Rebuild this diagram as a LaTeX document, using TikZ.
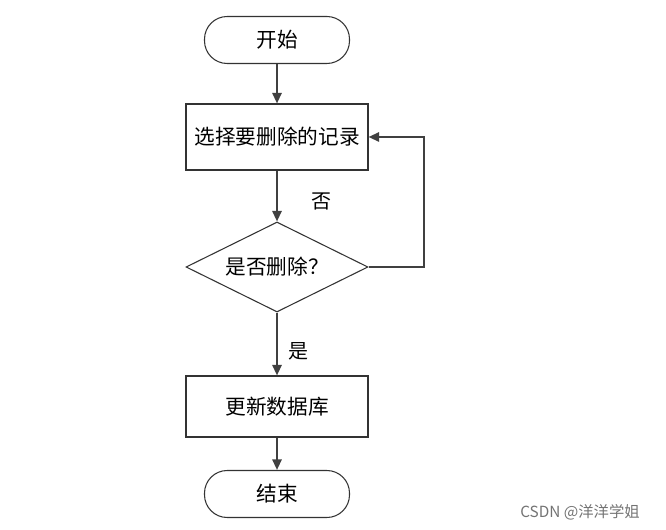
\documentclass[tikz,border=0pt]{standalone}
\usepackage{fontspec}
\setmainfont{Noto Sans CJK SC}
\usetikzlibrary{shapes.geometric,arrows.meta}
\begin{document}
\begin{tikzpicture}[x=0.75pt,y=-0.75pt,
  box/.style={draw=black!80,line width=0.8pt,minimum width=136.5pt,inner sep=0pt,font=\fontsize{15.5}{18}\selectfont},
  term/.style={box,rounded corners=17pt,minimum width=108.75pt,minimum height=35.25pt},
  proc/.style={box,minimum height=49pt},
  dec/.style={draw=black!80,line width=0.8pt,diamond,aspect=2,minimum width=136.5pt,minimum height=67.5pt,inner sep=0pt,font=\fontsize{15.5}{18}\selectfont},
  arr/.style={draw=black!75,line width=1.5pt,-{Triangle[length=8pt,width=7pt]}},
  lbl/.style={font=\fontsize{15}{18}\selectfont}]
\useasboundingbox (0,0) rectangle (666,530);
\node[term] (s) at (277,40) {开始};
\node[proc,minimum height=49.5pt] (b1) at (277,137) {选择要删除的记录};
\node[dec] (d) at (277,267) {是否删除？};
\node[proc,minimum height=45.75pt] (b2) at (277,406.5) {更新数据库};
\node[term] (e) at (277,494) {结束};
\coordinate (c1) at (424,267);
\coordinate (c2) at (424,137);
\draw[arr] (s) -- (b1);
\draw[arr] (b1) -- (d);
\draw[arr] (d) -- (b2);
\draw[arr] (b2) -- (e);
\draw[arr] (d.east) -- (c1) -- (c2) -- (b1.east);
\node[lbl] (no) at (321,201) {否};
\node[lbl] (yes) at (298,351) {是};
\node[font=\fontsize{11.5}{13}\selectfont,text=black!55] (wm) at (580,512) {CSDN @洋洋学姐};
\end{tikzpicture}
\end{document}
